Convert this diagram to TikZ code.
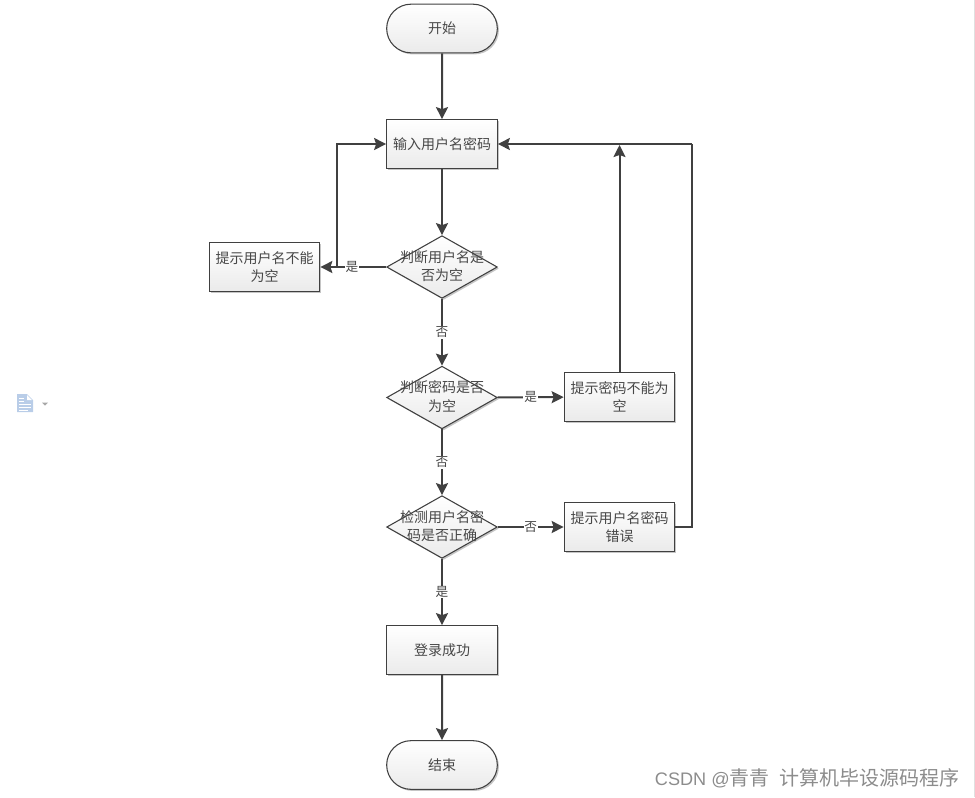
\documentclass[tikz,border=0pt]{standalone}
\usepackage{fontspec}
\setmainfont{Noto Sans CJK SC}
\newfontfamily\latinfont{Liberation Sans}
\usepackage{tikz}
\usetikzlibrary{arrows.meta}
\usetikzlibrary{shapes.geometric}
\usetikzlibrary{shapes.misc}
\usetikzlibrary{shadows}
\definecolor{linegray}{HTML}{404040}
\definecolor{markgray}{HTML}{A8A8A8}
\definecolor{iconblue}{HTML}{B9CDE8}
\tikzset{basic/.style={draw=linegray,line width=0.8pt,top color=white,bottom color=black!8,
                       text=black!72,font=\fontsize{10.5pt}{14pt}\selectfont,align=center,inner sep=0pt,
                       drop shadow={shadow xshift=1.2pt,shadow yshift=-1.2pt,fill=black!45,opacity=0.5}}}
\tikzset{process/.style={basic,rectangle,minimum width=83pt,minimum height=36.5pt}}
\tikzset{terminal/.style={basic,rounded rectangle,minimum width=83pt,minimum height=36.5pt}}
\tikzset{decision/.style={basic,diamond,aspect=1.77,minimum width=83pt,minimum height=47pt}}
\tikzset{flow/.style={draw=linegray,line width=1.5pt,-{Stealth[length=9pt,width=9pt,inset=1.5pt]}}}
\tikzset{plain/.style={draw=linegray,line width=1.5pt}}
\tikzset{annot/.style={fill=white,text=black!72,font=\fontsize{9.5pt}{11pt}\selectfont,inner sep=0.6pt}}
\def\midx{442}

\begin{document}
\begin{tikzpicture}[x=0.75pt,y=-0.75pt]
    \useasboundingbox (0,0) rectangle (975,797);

    % Draw the column of steps
    \node[terminal] (start) at (\midx,28.5) {开始};
    \node[process] (input) at (\midx,144) {输入用户名密码};
    \node[process] (ok) at (\midx,650) {登录成功};
    \node[terminal] (end) at (\midx,765) {结束};

    % Draw the checks, text sits on top of the diamond
    \foreach \name / \y / \txt in {1/267/判断用户名是\\否为空,2/397.5/判断密码是否\\为空,3/527/检测用户名密\\码是否正确}
        \node[decision,label={[text=black!72,font=\fontsize{10.5pt}{14pt}\selectfont,align=center,yshift=0.6pt]center:\txt}] (D-\name) at (\midx,\y) {};

    % Draw the hint boxes
    \foreach \name / \x / \y / \txt in {1/264.5/267/提示用户名不能\\为空,2/619.5/397/提示密码不能为\\空,3/619.5/527/提示用户名密码\\错误}
        \node[process] (T-\name) at (\x,\y) {\txt};

    \coordinate (J-1) at (337,267);
    \coordinate (J-2) at (692,527);
    \coordinate (J-3) at (692,144);
    \coordinate (J-4) at (619.5,145);

    % Connect the column from top to bottom
    \draw[flow] (start) -- (input);
    \draw[flow] (input) -- (D-1);
    \draw[flow] (D-1) -- node[annot] (no-1) {否} (D-2);
    \draw[flow] (D-2) -- node[annot] (no-2) {否} (D-3);
    \draw[flow] (D-3) -- node[annot] (yes-3) {是} (ok);
    \draw[flow] (ok) -- (end);

    % Connect the checks to the hints
    \draw[flow] (D-1) -- node[annot,pos=0.52] (yes-1) {是} (T-1);
    \draw[flow] (D-2) -- node[annot,pos=0.5] (yes-2) {是} (T-2);
    \draw[flow] (D-3) -- node[annot,pos=0.5] (no-3) {否} (T-3);

    % Connect the hints back to the input
    \draw[flow] (J-1) |- (input);
    \draw[flow] (T-2) -- (J-4);
    \draw[plain] (T-3) -- (J-2) -- (J-3);
    \draw[flow] (J-3) -- (input);

    % Page icon at the left and the edge at the right
    \fill[iconblue] (17,394) -- (27,394) -- (33,400) -- (33,412) -- (17,412) -- cycle;
    \fill[white] (27,395) -- (32,400) -- (27,400) -- cycle;
    \foreach \y / \w in {398/24,401/24,404/31,407/31,410/28}
        \draw[white,line width=0.7pt] (19,\y) -- (\w,\y);
    \fill[markgray] (42,402.5) -- (48,402.5) -- (45,405.5) -- cycle;
    \draw[black!12,line width=0.8pt] (974.5,0) -- (974.5,797);

    % Mark at the bottom
    \node[anchor=east,text=black!45,font=\fontsize{15pt}{17pt}\selectfont,inner sep=0pt] (mark) at (960,778) {{\latinfont\fontsize{13.6pt}{17pt}\selectfont CSDN @}青青\hspace{0.5em}计算机毕设源码程序};
\end{tikzpicture}
\end{document}
